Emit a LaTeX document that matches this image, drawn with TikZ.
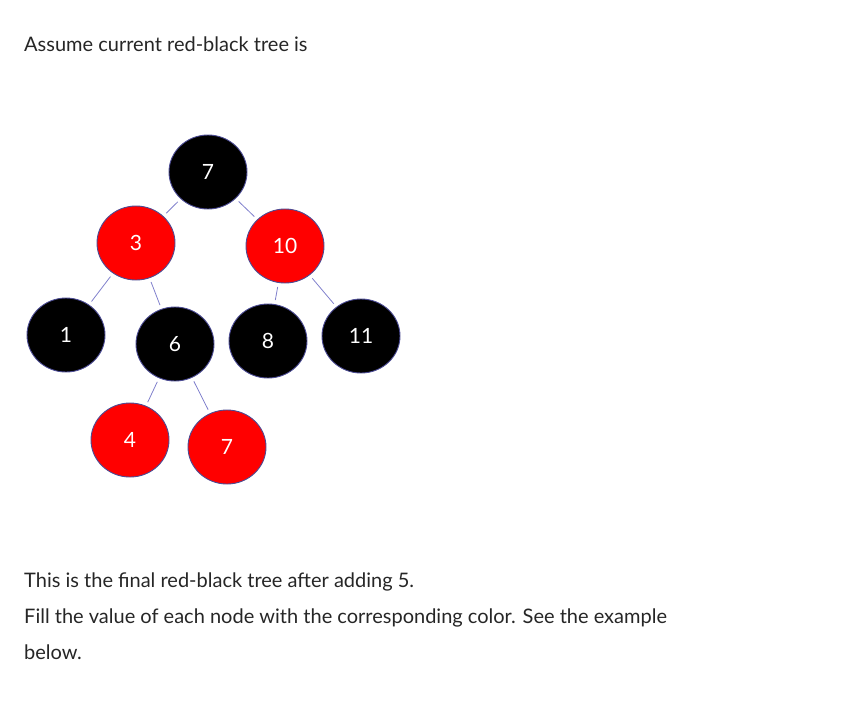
\documentclass[tikz,border=0pt]{standalone}
\usepackage{fontspec}
\setmainfont{Lato}
\begin{document}
\begin{tikzpicture}[x=1pt,y=-1pt,
  rb/.style={ellipse,draw=blue!40!black!70,line width=0.9pt,minimum width=78pt,minimum height=74pt,inner sep=0pt,text=white,font=\fontsize{21}{24}\selectfont},
  bk/.style={rb,fill=black},
  rd/.style={rb,fill=red},
  ed/.style={draw=blue!60!black!50!white,line width=0.8pt,shorten <=4pt,shorten >=4pt},
  tx/.style={anchor=base west,inner sep=0pt,font=\fontsize{20}{24}\selectfont,text=black!85}]
\useasboundingbox (0,0) rectangle (853,713);
\usetikzlibrary{shapes.geometric}
\node[bk] (n7) at (208,172) {7};
\node[rd] (n3) at (136,243) {3};
\node[rd] (n10) at (285,246) {10};
\node[bk] (n1) at (66,335) {1};
\node[bk] (n6) at (175,344) {6};
\node[bk] (n8) at (268,341) {8};
\node[bk] (n11) at (361,336) {11};
\node[rd] (n4) at (130,440) {4};
\node[rd] (n7b) at (227,447) {7};
\draw[ed] (n7)--(n3); \draw[ed] (n7)--(n10);
\draw[ed] (n3)--(n1); \draw[ed] (n3)--(n6);
\draw[ed] (n10)--(n8); \draw[ed] (n10)--(n11);
\draw[ed] (n6)--(n4); \draw[ed] (n6)--(n7b);
\node[tx] (t1) at (24,51) {Assume current red-black tree is};
\node[tx] (t2) at (24,587) {This is the final red-black tree after adding 5.};
\node[tx] (t3) at (24,623) {Fill the value of each node with the corresponding color. See the example};
\node[tx] (t4) at (24,659) {below.};
\end{tikzpicture}
\end{document}
